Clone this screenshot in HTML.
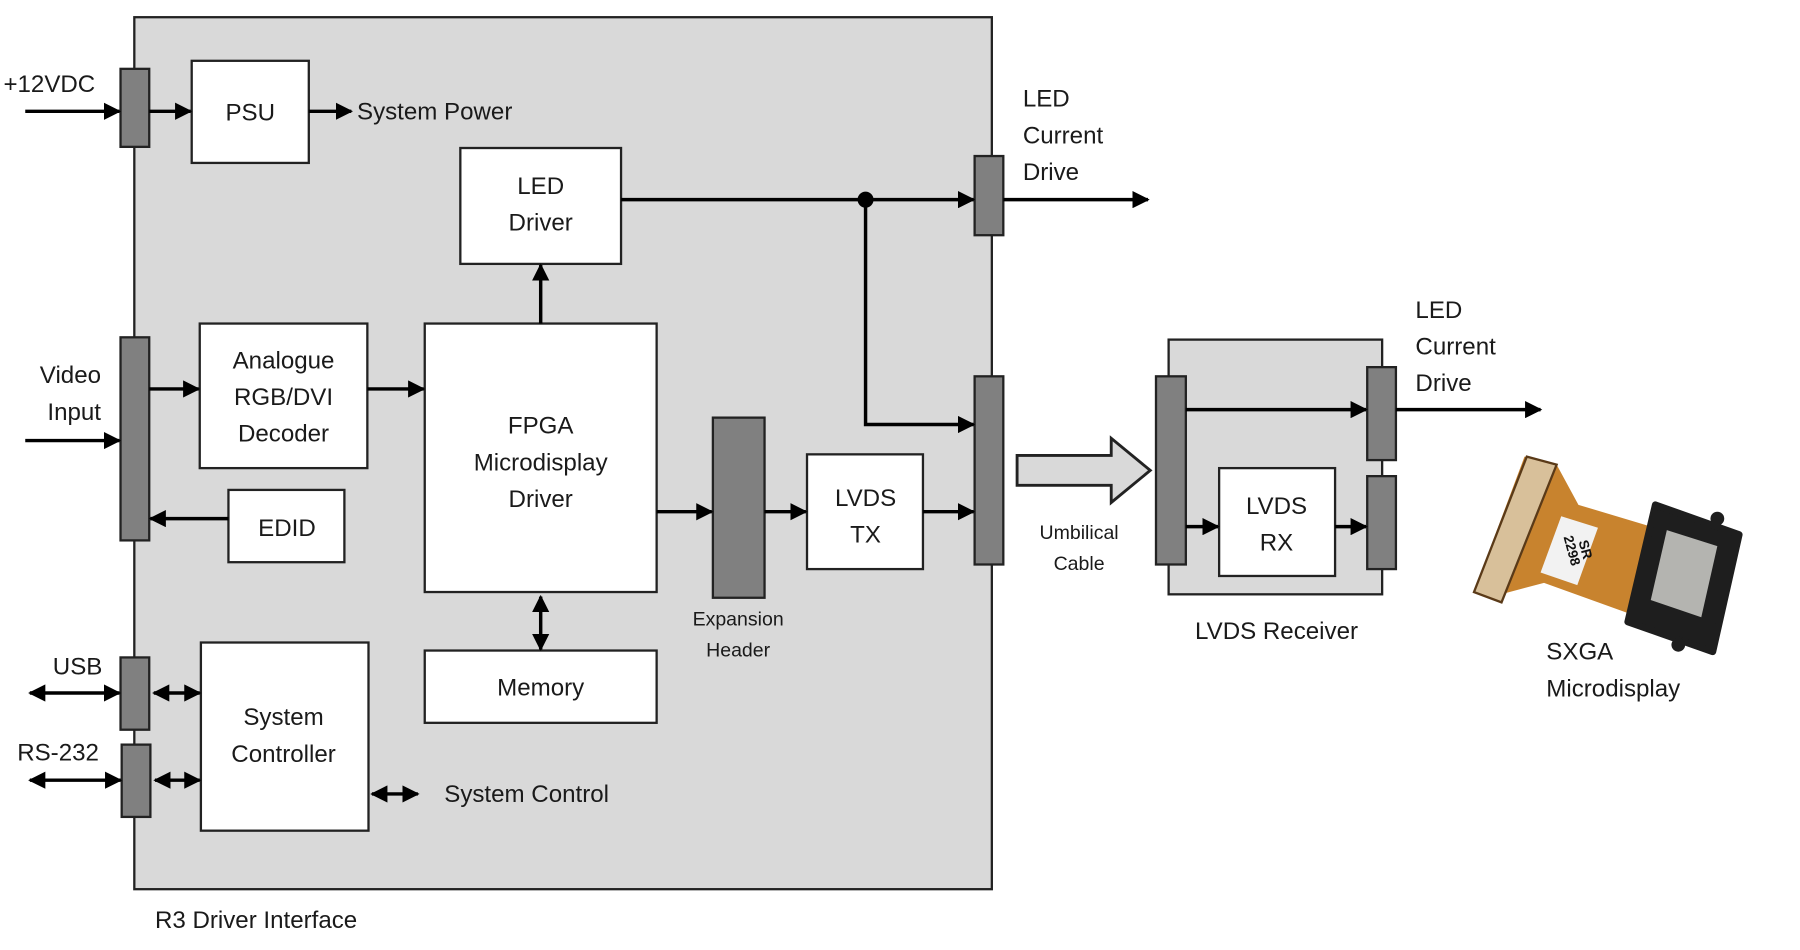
<!DOCTYPE html>
<html><head><meta charset="utf-8"><style>
html,body{margin:0;padding:0;background:#fff;}
svg{display:block;}
text{font-family:"Liberation Sans",sans-serif;fill:#1a1a1a;}
</style></head><body>
<svg width="1800" height="950" viewBox="0 0 1568 828" preserveAspectRatio="none" xmlns="http://www.w3.org/2000/svg">
<defs>
<marker id="a" viewBox="0 0 10 10" refX="9" refY="5" markerWidth="5" markerHeight="5" orient="auto-start-reverse"><path d="M0,0 L10,5 L0,10 z" fill="#000"/></marker>
</defs>
<g stroke="#222" stroke-width="2">
<rect x="117" y="15" width="747" height="760" fill="#d9d9d9"/>
<rect x="1018" y="296" width="186" height="222" fill="#d9d9d9"/>
<g fill="#fff">
<rect x="167" y="53" width="102" height="89"/>
<rect x="401" y="129" width="140" height="101"/>
<rect x="370" y="282" width="202" height="234"/>
<rect x="174" y="282" width="146" height="126"/>
<rect x="199" y="427" width="101" height="63"/>
<rect x="370" y="567" width="202" height="63"/>
<rect x="175" y="560" width="146" height="164"/>
<rect x="703" y="396" width="101" height="100"/>
<rect x="1062" y="408" width="101" height="94"/>
</g>
<g fill="#808080">
<rect x="105" y="60" width="25" height="68"/>
<rect x="105" y="294" width="25" height="177"/>
<rect x="105" y="573" width="25" height="63"/>
<rect x="106" y="649" width="25" height="63"/>
<rect x="621" y="364" width="45" height="157"/>
<rect x="849" y="136" width="25" height="69"/>
<rect x="849" y="328" width="25" height="164"/>
<rect x="1007" y="328" width="26" height="164"/>
<rect x="1191" y="320" width="25" height="81"/>
<rect x="1191" y="415" width="25" height="81"/>
</g>
</g>
<g stroke="#000" stroke-width="3" fill="none" marker-end="url(#a)">
<line x1="22" y1="97" x2="104" y2="97"/>
<line x1="130" y1="97" x2="166" y2="97"/>
<line x1="269" y1="97" x2="306" y2="97"/>
<line x1="22" y1="384" x2="104" y2="384"/>
<line x1="130" y1="339" x2="173" y2="339"/>
<line x1="320" y1="339" x2="369" y2="339"/>
<line x1="199" y1="452" x2="131" y2="452"/>
<line x1="471" y1="282" x2="471" y2="231"/>
<line x1="471" y1="520" x2="471" y2="566" marker-start="url(#a)"/>
<line x1="541" y1="174" x2="848" y2="174"/>
<line x1="874" y1="174" x2="1000" y2="174"/>
<polyline points="754,174 754,370 848,370"/>
<line x1="572" y1="446" x2="620" y2="446"/>
<line x1="666" y1="446" x2="702" y2="446"/>
<line x1="804" y1="446" x2="848" y2="446"/>
<line x1="1033" y1="357" x2="1190" y2="357"/>
<line x1="1216" y1="357" x2="1342" y2="357"/>
<line x1="1033" y1="459" x2="1061" y2="459"/>
<line x1="1163" y1="459" x2="1190" y2="459"/>
<line x1="26" y1="604" x2="104" y2="604" marker-start="url(#a)"/>
<line x1="134" y1="604" x2="174" y2="604" marker-start="url(#a)"/>
<line x1="26" y1="680" x2="105" y2="680" marker-start="url(#a)"/>
<line x1="135" y1="680" x2="174" y2="680" marker-start="url(#a)"/>
<line x1="324" y1="692" x2="364" y2="692" marker-start="url(#a)"/>
</g>
<circle cx="754" cy="174" r="7" fill="#000"/>
<polygon points="886,397 968,397 968,382 1002,410 968,438 968,423 886,423" fill="#d9d9d9" stroke="#222" stroke-width="2.5"/>
<!-- microdisplay -->
<polygon points="1328,398 1356,405 1375,440 1435,458 1420,535 1345,508 1300,520 1286,510" fill="#c8832e"/>
<polygon points="1330,398 1356,405 1308,525 1284,516" fill="#d8c09a" stroke="#5a3a18" stroke-width="2"/>
<polygon points="1360,450 1392,460 1374,510 1342,499" fill="#f2f2f2"/>
<text font-size="12" font-weight="bold" transform="translate(1375,472) rotate(75)" style="fill:#111">SR</text>
<text font-size="12" font-weight="bold" transform="translate(1362,468) rotate(75)" style="fill:#111">2298</text>
<polygon points="1442,440 1515,466 1492,568 1418,542" fill="#1e1e1e" stroke="#1e1e1e" stroke-width="6" stroke-linejoin="round"/>
<circle cx="1496" cy="452" r="6" fill="#1e1e1e"/>
<circle cx="1462" cy="562" r="6" fill="#1e1e1e"/>
<polygon points="1452,462 1496,476 1482,538 1438,523" fill="#b4b4b0"/>
<g font-size="21">
<text x="3" y="80">+12VDC</text>
<text x="218" y="105" text-anchor="middle">PSU</text>
<text x="311" y="104">System Power</text>
<text x="471" y="169" text-anchor="middle">LED</text>
<text x="471" y="201" text-anchor="middle">Driver</text>
<text x="891" y="93">LED</text><text x="891" y="125">Current</text><text x="891" y="157">Drive</text>
<text x="1233" y="277">LED</text><text x="1233" y="309">Current</text><text x="1233" y="341">Drive</text>
<text x="88" y="334" text-anchor="end">Video</text>
<text x="88" y="366" text-anchor="end">Input</text>
<text x="247" y="321" text-anchor="middle">Analogue</text>
<text x="247" y="353" text-anchor="middle">RGB/DVI</text>
<text x="247" y="385" text-anchor="middle">Decoder</text>
<text x="471" y="378" text-anchor="middle">FPGA</text>
<text x="471" y="410" text-anchor="middle">Microdisplay</text>
<text x="471" y="442" text-anchor="middle">Driver</text>
<text x="250" y="467" text-anchor="middle">EDID</text>
<text x="754" y="441" text-anchor="middle">LVDS</text>
<text x="754" y="473" text-anchor="middle">TX</text>
<text x="1112" y="448" text-anchor="middle">LVDS</text>
<text x="1112" y="480" text-anchor="middle">RX</text>
<text x="471" y="606" text-anchor="middle">Memory</text>
<text x="247" y="632" text-anchor="middle">System</text>
<text x="247" y="664" text-anchor="middle">Controller</text>
<text x="46" y="588">USB</text>
<text x="15" y="663">RS-232</text>
<text x="387" y="699">System Control</text>
<text x="135" y="809">R3 Driver Interface</text>
<text x="1112" y="557" text-anchor="middle">LVDS Receiver</text>
<text x="1347" y="575">SXGA</text>
<text x="1347" y="607">Microdisplay</text>
</g>
<g font-size="17">
<text x="643" y="545" text-anchor="middle">Expansion</text>
<text x="643" y="572" text-anchor="middle">Header</text>
<text x="940" y="470" text-anchor="middle">Umbilical</text>
<text x="940" y="497" text-anchor="middle">Cable</text>
</g>
</svg>
</body></html>
